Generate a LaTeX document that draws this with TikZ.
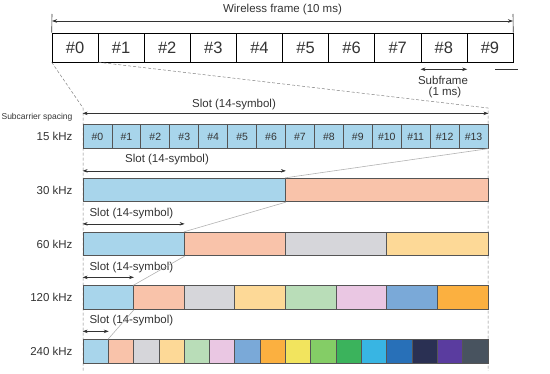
\documentclass[tikz,border=0pt]{standalone}
\usepackage{fontspec}
\setmainfont{Liberation Sans}
\usetikzlibrary{arrows.meta,positioning}
\definecolor{txt}{HTML}{333333}
\definecolor{edge}{HTML}{555555}
\definecolor{c1}{HTML}{A8D5EB}
\definecolor{c2}{HTML}{F9C3AA}
\definecolor{c3}{HTML}{D6D6DA}
\definecolor{c4}{HTML}{FDD997}
\definecolor{c5}{HTML}{B9DDB8}
\definecolor{c6}{HTML}{EAC7E3}
\definecolor{c7}{HTML}{7AA9D8}
\definecolor{c8}{HTML}{FBB040}
\definecolor{c9}{HTML}{F2E45E}
\definecolor{c10}{HTML}{84CD66}
\definecolor{c11}{HTML}{3BB35C}
\definecolor{c12}{HTML}{38B5E3}
\definecolor{c13}{HTML}{2870B8}
\definecolor{c14}{HTML}{2A3053}
\definecolor{c15}{HTML}{5A3C9F}
\definecolor{c16}{HTML}{48535F}
\tikzset{
  frm/.style={draw=black, line width=0.6pt, minimum width=46.1pt, minimum height=29pt, inner sep=0pt, font=\fontsize{16.5}{18}\selectfont},
  sym/.style={draw=edge, line width=0.8pt, minimum height=23.5pt, inner sep=0pt},
  dim/.style={{Stealth[length=5pt,width=3.5pt]}-{Stealth[length=5pt,width=3.5pt]}, draw=txt, line width=0.6pt},
  tick/.style={draw=txt, line width=0.6pt},
  guide/.style={densely dashed, draw=gray, line width=0.5pt},
  zoomln/.style={draw=gray!60, line width=0.6pt},
  rowlbl/.style={anchor=east}
}

\begin{document}
\begin{tikzpicture}[x=1pt, y=-1pt, every node/.style={font=\fontsize{11.5}{13}\selectfont, text=txt}]
\useasboundingbox (0,0) rectangle (550,374);
% Wireless frame
\foreach \i in {0,...,9}
  \node[frm] (f\i) at ({52+46.1*\i+23.05},47.5) {\#\i};
\coordinate (wl) at (52,21);
\coordinate (wr) at (513,21);
\coordinate (wtl) at (52,14);
\coordinate (wtr) at (513,14);
\draw[tick] (f0.north west) -- (wtl);
\draw[tick] (f9.north east) -- (wtr);
\draw[dim] (wl) -- (wr);
\node (wf) at (282.5,10) {Wireless frame (10 ms)};
% Subframe
\draw[dim] ([yshift=-7pt]f8.south west) -- ([yshift=-7pt]f8.south east);
\node (sf) at (443,80) {Subframe};
\node (sfms) at (445,93) {(1 ms)};
\coordinate (s1) at (495,69);
\coordinate (s2) at (518,69);
\draw[tick] (s1) -- (s2);
% Zoom guides
\coordinate (gl) at (83,108);
\coordinate (gr) at (488,108);
\coordinate (gbl) at (83,371);
\coordinate (gbr) at (488,371);
\draw[guide] (f0.south west) -- (gl) -- (gbl);
\draw[guide] (f0.south east) -- (gr) -- (gbr);
% 15 kHz
\foreach \i in {0,...,13}
  \node[sym, fill=c1, minimum width=28.93pt, font=\fontsize{10.5}{12}\selectfont] (a\i) at ({83+28.93*\i+14.465},136.5) {\#\i};
% 30 kHz
\foreach \c [count=\i from 0] in {c1,c2}
  \node[sym, fill=\c, minimum width=202.5pt] (b\i) at ({83+202.5*\i+101.25},190) {};
% 60 kHz
\foreach \c [count=\i from 0] in {c1,c2,c3,c4}
  \node[sym, fill=\c, minimum width=101.25pt] (d\i) at ({83+101.25*\i+50.625},244) {};
% 120 kHz
\foreach \c [count=\i from 0] in {c1,c2,c3,c4,c5,c6,c7,c8}
  \node[sym, fill=\c, minimum width=50.625pt] (e\i) at ({83+50.625*\i+25.3125},297.5) {};
% 240 kHz
\foreach \c [count=\i from 0] in {c1,c2,c3,c4,c5,c6,c7,c8,c9,c10,c11,c12,c13,c14,c15,c16}
  \node[sym, fill=\c, minimum width=25.3125pt] (g\i) at ({83+25.3125*\i+12.656},351.5) {};
% Labels
\node[rowlbl, font=\fontsize{8.5}{10}\selectfont] (scs) at (76,117) {Subcarrier spacing};
\node[rowlbl] (l15) at (76,136.5) {15 kHz};
\node[rowlbl] (l30) at (76,190) {30 kHz};
\node[rowlbl] (l60) at (76,244) {60 kHz};
\node[rowlbl] (l120) at (76,297.5) {120 kHz};
\node[rowlbl] (l240) at (76,351.5) {240 kHz};
% Slots
\draw[dim] ([yshift=11pt]a0.north west) -- ([yshift=11pt]a13.north east);
\node (t15) at (234,105) {Slot (14-symbol)};
\draw[dim] ([yshift=7pt]b0.north west) -- ([yshift=7pt]b0.north east);
\node (t30) at (167,160) {Slot (14-symbol)};
\draw[dim] ([yshift=8pt]d0.north west) -- ([yshift=8pt]d0.north east);
\node[anchor=west] (t60) at (86,214) {Slot (14-symbol)};
\draw[dim] ([yshift=8pt]e0.north west) -- ([yshift=8pt]e0.north east);
\node[anchor=west] (t120) at (86,268) {Slot (14-symbol)};
\draw[dim] ([yshift=8pt]g0.north west) -- ([yshift=8pt]g0.north east);
\node[anchor=west] (t240) at (86,321) {Slot (14-symbol)};
% Zoom lines
\draw[zoomln] (a13.south east) -- (b1.north west);
\draw[zoomln] (b0.south east) -- (d1.north west);
\draw[zoomln] (d0.south east) -- (e1.north west);
\draw[zoomln] (e0.south east) -- (g1.north west);
\end{tikzpicture}
\end{document}
